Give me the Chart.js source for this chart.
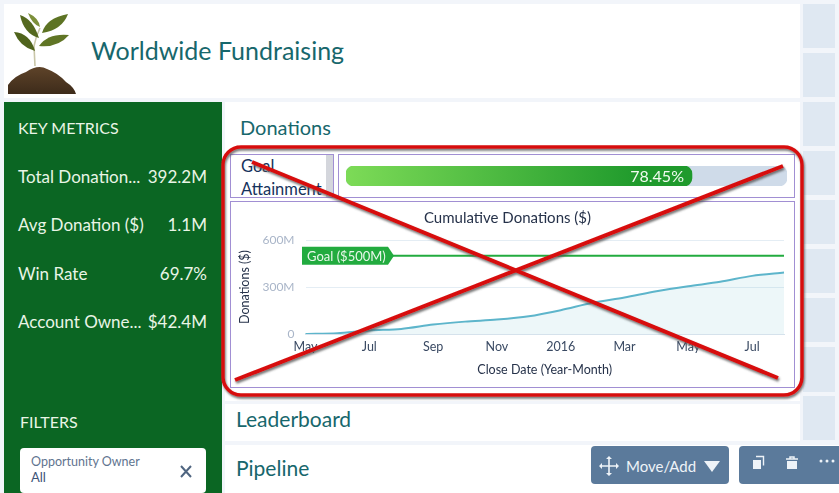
<!DOCTYPE html>
<html>
<head>
<meta charset="utf-8">
<title>Worldwide Fundraising</title>
<script src="https://cdn.jsdelivr.net/npm/chart.js@4"></script>
<style>
  html, body { margin: 0; padding: 0; }
  body { width: 839px; height: 493px; overflow: hidden; position: relative; background: #f2f5fa; font-family: Lato, "Open Sans", sans-serif; }
  .box { position: absolute; box-sizing: border-box; }
  .txt { position: absolute; white-space: nowrap; line-height: 1; }
  .white { background: #fff; }
  .tile { background: #dfe8f2; left: 803px; width: 32px; }
  .head { color: #17676c; }
  .side { color: #e9f5e6; font-size: 17px; }
  .frame { border: 1px solid #a18fd3; background: #fff; }
  .btn { background: #5b7a9b; border-radius: 4px; }
  canvas { position: absolute; }
  svg { position: absolute; left: 0; top: 0; }
</style>
</head>
<body>
<div class="box white" style="left:4px;top:4px;width:796px;height:94px"></div>
<div class="box white" style="left:225px;top:102px;width:575px;height:299px"></div>
<div class="box white" style="left:225px;top:404px;width:575px;height:37px"></div>
<div class="box white" style="left:225px;top:445px;width:614px;height:48px"></div>
<div class="box" style="left:4px;top:102px;width:218px;height:391px;background:#0b6623"></div>

<div class="box tile" style="top:4px;height:44px"></div>
<div class="box tile" style="top:53px;height:44px"></div>
<div class="box tile" style="top:102px;height:44px"></div>
<div class="box tile" style="top:151px;height:44px"></div>
<div class="box tile" style="top:200px;height:44px"></div>
<div class="box tile" style="top:249px;height:44px"></div>
<div class="box tile" style="top:298px;height:44px"></div>
<div class="box tile" style="top:347px;height:45px"></div>
<div class="box tile" style="top:396px;height:44px"></div>

<!-- logo -->
<svg width="839" height="493" style="z-index:1">
  <defs>
    <linearGradient id="soil" x1="0" y1="0" x2="0" y2="1">
      <stop offset="0" stop-color="#5e4329"/><stop offset="1" stop-color="#3d2b1a"/>
    </linearGradient>
  </defs>
  <path d="M35 66 L34 46 Q36 36 40 28" stroke="#c9c6a8" stroke-width="1.6" fill="none"/>
  <path d="M20 15 Q33 19 39 38 Q24 34 20 15Z" fill="#55691f"/>
  <path d="M28 13 Q39 18 40 27 Q32 24 28 13Z" fill="#7c8f3a"/>
  <path d="M42 33 Q46 18 68 14 Q62 30 42 33Z" fill="#5d7324"/>
  <path d="M14 32 Q30 33 35 51 Q20 47 14 32Z" fill="#4f631c"/>
  <path d="M39 46 Q48 33 69 35 Q58 48 39 46Z" fill="#607525"/>
  <path d="M8 94 L8 85 Q14 76 26 72 Q38 64 47 69 Q58 73 66 82 Q74 87 76 94Z" fill="url(#soil)"/>
</svg>

<div class="txt head" style="left:91px;top:38px;font-size:25px">Worldwide Fundraising</div>
<div class="txt head" style="left:240px;top:117px;font-size:20px">Donations</div>
<div class="txt head" style="left:236px;top:408px;font-size:21px">Leaderboard</div>
<div class="txt head" style="left:236px;top:457px;font-size:21px">Pipeline</div>

<div class="txt side" style="left:18px;top:120px;font-size:16px">KEY METRICS</div>
<div class="txt side" style="left:18px;top:168px">Total Donation...</div>
<div class="txt side" style="right:632px;top:168px">392.2M</div>
<div class="txt side" style="left:18px;top:216px">Avg Donation ($)</div>
<div class="txt side" style="right:632px;top:216px">1.1M</div>
<div class="txt side" style="left:18px;top:265px">Win Rate</div>
<div class="txt side" style="right:632px;top:265px">69.7%</div>
<div class="txt side" style="left:18px;top:313px">Account Owne...</div>
<div class="txt side" style="right:632px;top:313px">$42.4M</div>
<div class="txt side" style="left:20px;top:414px;font-size:16px">FILTERS</div>

<div class="box" style="left:20px;top:448px;width:186px;height:45px;background:#fff;border-radius:4px"></div>
<div class="txt" style="left:31px;top:456px;font-size:12.5px;color:#5f7490">Opportunity Owner</div>
<div class="txt" style="left:31px;top:471px;font-size:13px;color:#3d5478">All</div>
<svg width="839" height="493" style="z-index:1">
  <path d="M181 466 L191 477 M191 466 L181 477" stroke="#4f6580" stroke-width="2"/>
</svg>

<div class="box frame" style="left:230px;top:154px;width:104px;height:44px;overflow:hidden">
  <div class="txt" style="left:10px;top:3px;font-size:16.5px;color:#16325c">Goal</div>
  <div class="txt" style="left:10px;top:26px;font-size:16.5px;color:#16325c">Attainment</div>
  <div class="box" style="left:95px;top:0;width:7px;height:42px;background:#d4d6dc"></div>
</div>
<div class="box frame" style="left:338px;top:154px;width:457px;height:44px"></div>
<div class="box frame" style="left:230px;top:201px;width:565px;height:187px"></div>

<canvas id="goalBar" width="441" height="20" style="left:346px;top:166px"></canvas>
<canvas id="donationsChart" width="563" height="185" style="left:231px;top:202px"></canvas>

<div class="box btn" style="left:591px;top:446px;width:138px;height:38px"></div>
<div class="txt" style="left:626px;top:459px;font-size:15px;color:#eef3f8">Move/Add</div>
<div class="box btn" style="left:739px;top:446px;width:104px;height:38px"></div>

<svg width="839" height="493" style="z-index:2">
  <defs>
    <filter id="shade" x="-5%" y="-5%" width="110%" height="110%">
      <feDropShadow dx="1" dy="2" stdDeviation="1" flood-color="#555" flood-opacity="0.8"/>
    </filter>
  </defs>
  <!-- toolbar icons -->
  <path d="M609 459 V473 M602 466 H616" stroke="#eef3f8" stroke-width="1.6"/>
  <path d="M609 456 l3 3 h-6Z M609 476 l3 -3 h-6Z M599 466 l3 -3 v6Z M619 466 l-3 -3 v6Z" fill="#eef3f8"/>
  <path d="M704 461 H720 L712 472Z" fill="#eef3f8"/>
  <path d="M753 460 h8 v9 h-8Z" fill="#eef3f8"/>
  <path d="M756 456.5 h7.5 v9" fill="none" stroke="#eef3f8" stroke-width="1.4"/>
  <path d="M786 459 h12 M790 459 v-2 h4 v2" stroke="#eef3f8" stroke-width="1.5" fill="none"/>
  <path d="M787 461 h10 v8 h-10Z" fill="#eef3f8"/>
  <circle cx="821" cy="461" r="1.5" fill="#eef3f8"/><circle cx="827" cy="461" r="1.5" fill="#eef3f8"/><circle cx="833" cy="461" r="1.5" fill="#eef3f8"/>
  <!-- red markup -->
  <g filter="url(#shade)" fill="none" stroke="#d70d0d">
    <rect x="223" y="147" width="579" height="248" rx="18" stroke-width="3.5"/>
    <path d="M252 162 L778 378" stroke-width="4"/>
    <path d="M235 380 L783 166" stroke-width="4"/>
  </g>
</svg>

<script>
// values
const months = ['May', 'Jun', 'Jul', 'Aug', 'Sep', 'Oct', 'Nov', 'Dec', '2016', 'Feb', 'Mar', 'Apr', 'May', 'Jun', 'Jul', 'Aug'];
const cumulativeDonations = [0, 5, 23, 32, 60, 79, 92, 113, 152, 199, 233, 273, 305, 333, 371, 392];
const goalLine = [500, 500, 500, 500, 500, 500, 500, 500, 500, 500, 500, 500, 500, 500, 500, 500];
const yTickValues = [0, 300, 600];
const goalLabel = 'Goal ($500M)';
const attainment = [78.45];
const attainmentTrack = [100];

const FONT = 'Lato, "Open Sans", sans-serif';
const GOAL_GREEN = '#22ab3f';

// little flag on the left end of the goal line
const goalFlag = {
  id: 'goalFlag',
  afterDatasetsDraw(chart) {
    const { ctx, scales } = chart;
    const y = scales.y.getPixelForValue(goalLine[0]);
    const left = 71, right = 163, h = 9;
    ctx.save();
    ctx.fillStyle = GOAL_GREEN;
    ctx.beginPath();
    ctx.moveTo(left, y - h);
    ctx.lineTo(right - 6, y - h);
    ctx.lineTo(right, y);
    ctx.lineTo(right - 6, y + h);
    ctx.lineTo(left, y + h);
    ctx.closePath();
    ctx.fill();
    ctx.fillStyle = '#e8f8ea';
    ctx.font = '13px ' + FONT;
    ctx.textBaseline = 'middle';
    ctx.fillText(goalLabel, left + 5, y + 1);
    ctx.restore();
  }
};

new Chart(document.getElementById('donationsChart'), {
  type: 'line',
  data: {
    labels: months,
    datasets: [
      { data: goalLine, borderColor: GOAL_GREEN, borderWidth: 2, pointRadius: 0, fill: false, clip: false },
      {
        data: cumulativeDonations,
        borderColor: '#5db5cb',
        backgroundColor: 'rgba(93,181,203,0.11)',
        borderWidth: 2,
        pointRadius: 0,
        tension: 0.3,
        fill: 'origin'
      }
    ]
  },
  options: {
    responsive: false,
    animation: false,
    layout: { padding: { right: 10 } },
    plugins: {
      legend: { display: false },
      tooltip: { enabled: false },
      title: {
        display: true,
        text: 'Cumulative Donations ($)',
        color: '#26324a',
        font: { family: FONT, size: 15, weight: 'normal' },
        padding: { top: 7, bottom: 13 }
      }
    },
    scales: {
      x: {
        afterFit(scale) { scale.height = 53; },
        grid: { display: false, drawTicks: false },
        border: { color: '#d5e2ec' },
        ticks: {
          autoSkip: false,
          maxRotation: 0,
          color: '#3a4a63',
          font: { family: FONT, size: 12.5 },
          padding: 5,
          callback(value, index) { return index % 2 === 0 ? months[index] : ''; }
        },
        title: {
          display: true,
          text: 'Close Date (Year-Month)',
          color: '#26324a',
          font: { family: FONT, size: 12.5 },
          padding: { top: 6, bottom: 10 }
        }
      },
      y: {
        min: 0,
        max: 600,
        afterFit(scale) { scale.width = 74.5; },
        afterBuildTicks(scale) { scale.ticks = yTickValues.map(value => ({ value })); },
        grid: { color: '#e4edf4', drawTicks: false },
        border: { display: false },
        ticks: {
          color: '#a9b5c8',
          font: { family: FONT, size: 12 },
          padding: 11,
          callback(value) { return value === 0 ? '0' : value + 'M'; }
        },
        title: {
          display: true,
          text: 'Donations ($)',
          color: '#26324a',
          font: { family: FONT, size: 12.5 },
          padding: { top: 6, bottom: 0 }
        }
      }
    }
  },
  plugins: [goalFlag]
});

// percent text sits inside the green bar, near its end
const barLabel = {
  id: 'barLabel',
  afterDatasetsDraw(chart) {
    const { ctx, scales, chartArea } = chart;
    ctx.save();
    ctx.fillStyle = '#f2fbf0';
    ctx.font = '16px ' + FONT;
    ctx.textAlign = 'right';
    ctx.textBaseline = 'middle';
    ctx.fillText(attainment[0].toFixed(2) + '%', scales.x.getPixelForValue(attainment[0]) - 8, (chartArea.top + chartArea.bottom) / 2 + 1);
    ctx.restore();
  }
};

new Chart(document.getElementById('goalBar'), {
  type: 'bar',
  data: {
    labels: ['Goal Attainment'],
    datasets: [
      {
        data: attainment,
        order: 1,
        backgroundColor(ctx) {
          const area = ctx.chart.chartArea;
          if (!area) return '#3aa62f';
          const g = ctx.chart.ctx.createLinearGradient(area.left, 0, ctx.chart.scales.x.getPixelForValue(attainment[0]), 0);
          g.addColorStop(0, '#7ddb57');
          g.addColorStop(0.85, '#1f9a2c');
          g.addColorStop(1, '#1f9a2c');
          return g;
        }
      },
      { data: attainmentTrack, order: 2, backgroundColor: '#cfdbe9' }
    ]
  },
  options: {
    responsive: false,
    animation: false,
    indexAxis: 'y',
    grouped: false,
    barPercentage: 1,
    categoryPercentage: 1,
    borderRadius: 8,
    borderSkipped: false,
    layout: { padding: 0 },
    plugins: { legend: { display: false }, tooltip: { enabled: false } },
    scales: {
      x: { display: false, min: 0, max: 100 },
      y: { display: false }
    }
  },
  plugins: [barLabel]
});
</script>
</body>
</html>
